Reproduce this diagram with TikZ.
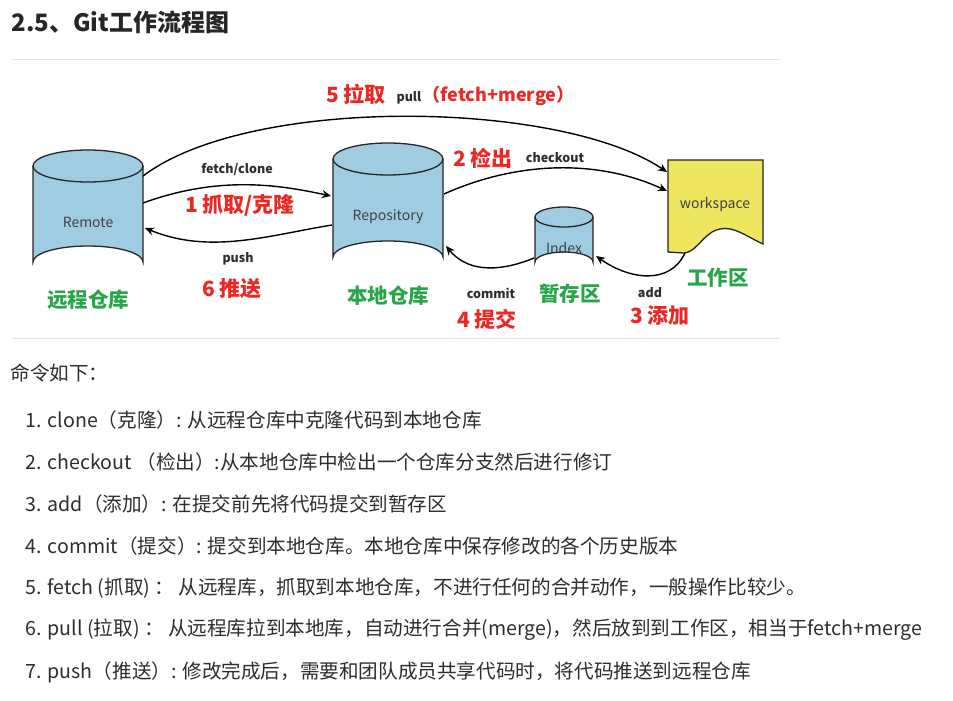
\documentclass[tikz,border=0pt]{standalone}
\usepackage{fontspec}
\setmainfont{Noto Sans CJK SC}
\usetikzlibrary{arrows.meta}
\definecolor{cyl}{RGB}{160,204,226}
\definecolor{ws}{RGB}{238,230,95}
\definecolor{rd}{RGB}{235,40,35}
\definecolor{gr}{RGB}{40,165,75}
\definecolor{tx}{RGB}{45,45,45}
\tikzset{
 arr/.style={-{Stealth[length=9pt,width=8pt]},line width=1.4pt},
 redl/.style={text=rd,font=\fontsize{21}{22}\selectfont\bfseries},
 grl/.style={text=gr,font=\fontsize{20.5}{22}\selectfont\bfseries},
 sml/.style={text=tx,font=\fontsize{12.5}{13}\selectfont\bfseries},
 item/.style={anchor=west,text=tx,font=\fontsize{19.6}{20}\selectfont},
 cylbody/.style={fill=cyl,draw=black!85,line width=1.3pt},
 inl/.style={font=\fontsize{14}{15}\selectfont,text=black!75}
}
\newcommand{\cylinder}[5]{% x1 x2 ytop ybottom ry
 \fill[cyl,draw=black!85,line width=1.3pt] (#1,#3+#5) -- (#1,#4-#5) arc[start angle=180,end angle=360,x radius={(#2-#1)/2},y radius=#5] -- (#2,#3+#5);
 \draw[cylbody] ({(#1+#2)/2},#3+#5) ellipse[x radius={(#2-#1)/2},y radius=#5];
}
\begin{document}
\begin{tikzpicture}[x=1pt,y=-1pt]
\useasboundingbox (0,0) rectangle (953,701);
\fill[white] (0,0) rectangle (953,701);
\node[anchor=west,font=\fontsize{24}{26}\selectfont\bfseries,text=black!85] (title) at (8,22) {2.5、Git工作流程图};
\draw[black!10,line width=1pt] (12,60) -- (780,60);
\draw[black!10,line width=1pt] (12,338) -- (780,338);
% cylinders
\cylinder{33}{143}{150}{278}{16}
\cylinder{333}{443}{143}{273}{16}
\cylinder{535}{593}{207}{272}{10}
\node[inl] (remote) at (88,222) {Remote};
\node[inl] (repo) at (388,217) {Repository};
\node[inl] (index) at (564,248) {Index};
% workspace
\fill[ws,draw=black!85,line width=1.3pt] (668,160) -- (763,160) -- (763,244)
  .. controls (745,236) and (730,222) .. (712,232)
  .. controls (700,240) and (695,252) .. (684,253) -- (668,252) -- cycle;
\node[inl] (ws) at (715,205) {workspace};
% connectors
\coordinate (rA) at (143,176); \coordinate (wA) at (667,172);
\draw[arr] (rA) .. controls (250,95) and (560,100) .. (wA);
\coordinate (rB) at (143,203); \coordinate (pB) at (331,196);
\draw[arr] (rB) .. controls (220,175) and (280,185) .. (pB);
\coordinate (pC) at (332,225); \coordinate (rC) at (145,228);
\draw[arr] (pC) .. controls (270,235) and (210,255) .. (rC);
\coordinate (pD) at (444,194); \coordinate (wD) at (667,191);
\draw[arr] (pD) .. controls (520,160) and (600,160) .. (wD);
\coordinate (iE) at (534,258); \coordinate (pE) at (446,246);
\draw[arr] (iE) .. controls (505,270) and (470,275) .. (pE);
\coordinate (wF) at (685,253); \coordinate (iF) at (596,256);
\draw[arr] (wF) .. controls (670,285) and (630,280) .. (iF);
% labels
\node[redl] (l5) at (356,94) {5 拉取};
\node[anchor=west] (l5b) at (393,96) {\textcolor{tx}{\fontsize{12.5}{13}\selectfont\bfseries pull}\,\textcolor{rd}{\fontsize{18}{18}\selectfont\bfseries（fetch+merge）}};
\node[sml] (fc) at (237,170) {fetch/clone};
\node[redl] (l1) at (240,205) {1 抓取/克隆};
\node[sml] (push) at (238,259) {push};
\node[redl] (l6) at (232,289) {6 推送};
\node[grl] (g1) at (88,300) {远程仓库};
\node[grl] (g2) at (388,296) {本地仓库};
\node[redl] (l2) at (483,158) {2 检出};
\node[sml] (co) at (555,158) {checkout};
\node[grl] (g3) at (718,278) {工作区};
\node[grl] (g4) at (570,294) {暂存区};
\node[sml] (cm) at (491,293) {commit};
\node[redl] (l4) at (487,319) {4 提交};
\node[sml] (add) at (650,293) {add};
\node[redl] (l3) at (660,316) {3 添加};
% text
\node[item] (h) at (7,373) {命令如下：};
\node[item] (i1) at (22,420) {1. clone（克隆）: 从远程仓库中克隆代码到本地仓库};
\node[item] (i2) at (22,462) {2. checkout （检出）:从本地仓库中检出一个仓库分支然后进行修订};
\node[item] (i3) at (22,504) {3. add（添加）: 在提交前先将代码提交到暂存区};
\node[item] (i4) at (22,546) {4. commit（提交）: 提交到本地仓库。本地仓库中保存修改的各个历史版本};
\node[item] (i5) at (22,588) {5. fetch (抓取) ： 从远程库，抓取到本地仓库，不进行任何的合并动作，一般操作比较少。};
\node[item] (i6) at (22,630) {6. pull (拉取) ： 从远程库拉到本地库，自动进行合并(merge)，然后放到到工作区，相当于fetch+merge};
\node[item] (i7) at (22,672) {7. push（推送）: 修改完成后，需要和团队成员共享代码时，将代码推送到远程仓库};
\end{tikzpicture}
\end{document}
